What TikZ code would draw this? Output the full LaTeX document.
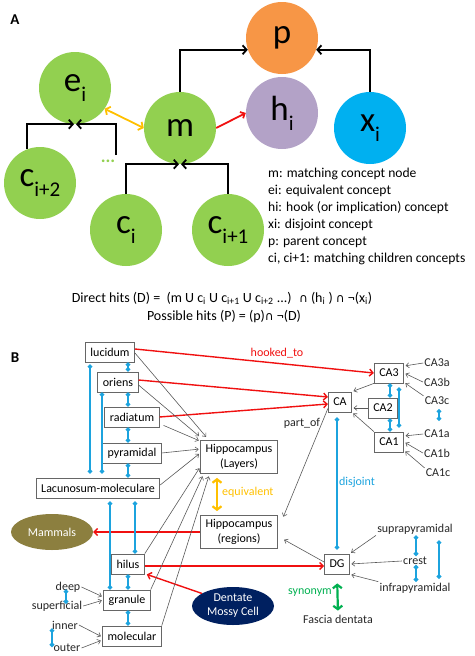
\documentclass[tikz,border=0pt]{standalone}
\usepackage{fontspec}
\setmainfont{Carlito}
\newfontfamily\symf{DejaVu Sans}
\usetikzlibrary{arrows.meta,shapes.geometric,calc}
\definecolor{lgreen}{HTML}{92D050}
\definecolor{porange}{HTML}{F79646}
\definecolor{hpurple}{HTML}{B3A2C7}
\definecolor{xblue}{HTML}{00B0F0}
\definecolor{eqorange}{HTML}{FFC000}
\definecolor{djblue}{HTML}{1CA3DE}
\definecolor{mammal}{HTML}{8C7F3F}
\definecolor{navyc}{HTML}{002060}
\definecolor{syngreen}{HTML}{00B050}
\definecolor{hookred}{HTML}{F01010}
\newcommand{\sbs}[1]{\raisebox{-0.28em}{\fontsize{21}{21}\selectfont #1}}
\begin{document}
\begin{tikzpicture}[x=1pt,y=-1pt,
  conc/.style={circle, minimum size=72pt, inner sep=0pt, font=\fontsize{35}{35}\selectfont},
  blk/.style={draw=black, line width=1.8pt, -{Straight Barb[length=4pt,width=9pt]}},
  box/.style={draw=gray!80!black, fill=white, line width=0.8pt, inner xsep=5pt, inner ysep=2pt, minimum height=20pt, font=\fontsize{12}{14}\selectfont},
  lbl/.style={inner sep=1pt, font=\fontsize{12}{14}\selectfont, text=black!85},
  redarr/.style={draw=hookred, line width=1.4pt, -{Straight Barb[length=3.5pt,width=7pt]}},
  gar/.style={draw=black!65, line width=0.6pt, -{Straight Barb[length=3pt,width=5pt]}, shorten >=1.5pt},
  dj/.style={draw=djblue, line width=1.6pt, {Circle[length=4.5pt]}-{Circle[length=4.5pt]}},
  dbl/.style={line width=2.2pt, {Straight Barb[length=3.5pt,width=9pt]}-{Straight Barb[length=3.5pt,width=9pt]}}
]
\useasboundingbox (0,0) rectangle (474,656);

% ---------- Part A ----------
\node[font=\fontsize{15}{15}\selectfont\bfseries] (labA) at (15,20) {A};
\node[conc,fill=lgreen] (e) at (75,88) {e\sbs{i}};
\node[conc,fill=lgreen] (m) at (180,128) {m};
\node[conc,fill=porange] (p) at (282,38) {p};
\node[conc,fill=hpurple] (h) at (282,113) {h\sbs{i}};
\node[conc,fill=xblue] (x) at (370,128) {x\sbs{i}};
\node[conc,fill=lgreen] (c2) at (40,183) {c\sbs{i+2}};
\node[conc,fill=lgreen] (ci) at (126,230) {c\sbs{i}};
\node[conc,fill=lgreen] (c1) at (228,230) {c\sbs{i+1}};
\node[text=lgreen, font=\fontsize{18}{18}\selectfont\bfseries] (dots) at (108,161) {...};
\coordinate (dotsend) at (116,155);

\draw[blk] (m.north) |- (p.199);
\draw[blk] (x.north) |- (p.-19);
\draw[blk] (c2.111) |- ([xshift=-1pt]e.south);
\draw[blk] (dotsend) |- ([xshift=1pt]e.south);
\draw[blk] (ci.north) |- ([xshift=-1pt]m.south);
\draw[blk] (c1.north) |- ([xshift=1pt]m.south);
\draw[dbl, draw=eqorange, line width=1.8pt] (e.-35) -- (m.west);
\draw[redarr, line width=1.8pt] (m.east) -- (h.west);

\node[anchor=north west, align=left, inner sep=0pt, font=\fontsize{13.6}{17}\selectfont] (legend) at (268,168)
 {m: matching concept node\\ ei: equivalent concept\\ hi: hook (or implication) concept\\ xi: disjoint concept\\ p: parent concept\\ ci, ci+1: matching children concepts};

\node[font=\fontsize{14}{16}\selectfont, inner sep=0pt] (f1) at (222,298)
 {Direct hits (D) = \ (m U c\textsubscript{i} U c\textsubscript{i+1} U c\textsubscript{i+2} ...) \ {\symf\fontsize{12}{14}\selectfont ∩} (h\textsubscript{i} ) {\symf\fontsize{12}{14}\selectfont ∩} ¬(x\textsubscript{i})};
\node[font=\fontsize{14}{16}\selectfont, inner sep=0pt] (f2) at (224,317)
 {Possible hits (P) = (p){\symf\fontsize{12}{14}\selectfont ∩} ¬(D)};

% ---------- Part B ----------
\node[font=\fontsize{15}{15}\selectfont\bfseries] (labB) at (15,358) {B};
\node[box] (lucidum) at (110,352) {lucidum};
\node[box] (oriens) at (118,382) {oriens};
\node[box] (radiatum) at (132,417) {radiatum};
\node[box] (pyramidal) at (132,453) {pyramidal};
\node[box] (lacun) at (98,488) {Lacunosum-moleculare};
\node[box, align=center, minimum height=33pt, font=\fontsize{12}{15}\selectfont] (layers) at (239,457) {Hippocampus\\(Layers)};
\node[box, align=center, minimum height=33pt, font=\fontsize{12}{15}\selectfont] (regions) at (239,532) {Hippocampus\\(regions)};
\node[ellipse, fill=mammal, minimum width=82pt, minimum height=36pt, inner sep=0pt, text=white, font=\fontsize{12}{14}\selectfont] (mammals) at (52,532) {Mammals};
\node[box] (hilus) at (128,564) {hilus};
\node[box] (granule) at (127,600) {granule};
\node[box] (molecular) at (132,636) {molecular};
\node[ellipse, fill=navyc, minimum width=82pt, minimum height=38pt, inner sep=0pt, text=white, align=center, font=\fontsize{12}{14}\selectfont] (mossy) at (233,606) {Dentate\\Mossy Cell};
\node[box] (DG) at (337,564) {DG};
\node[box] (CA) at (340,402) {CA};
\node[box] (CA3) at (389,373) {CA3};
\node[box] (CA2) at (383,408) {CA2};
\node[box] (CA1) at (389,442) {CA1};

\node[lbl] (CA3a) at (437,363) {CA3a};
\node[lbl] (CA3b) at (437,382) {CA3b};
\node[lbl] (CA3c) at (437,401) {CA3c};
\node[lbl] (CA1a) at (437,434) {CA1a};
\node[lbl] (CA1b) at (437,453) {CA1b};
\node[lbl] (CA1c) at (438,473) {CA1c};
\node[lbl] (supra) at (415,529) {suprapyramidal};
\node[lbl] (crest) at (415,561) {crest};
\node[lbl] (infra) at (415,588) {infrapyramidal};
\node[lbl] (fascia) at (338,619) {Fascia dentata};
\node[lbl] (deep) at (68,587) {deep};
\node[lbl] (superf) at (57,606) {superficial};
\node[lbl] (inner) at (65,625) {inner};
\node[lbl] (outer) at (67,648) {outer};

\node[lbl, text=hookred] (hooked) at (277,353) {hooked\_to};
\node[lbl] (partof) at (302,423) {part\_of};
\node[lbl, text=djblue] (disj) at (357,482) {disjoint};
\node[lbl, text=eqorange, anchor=west] (equiv) at (221,492) {equivalent};
\node[lbl, text=syngreen] (syn) at (310,593) {synonym};

% red arrows
\draw[redarr] ([yshift=3pt]lucidum.east) -- (CA3.west);
\draw[redarr] ([yshift=2pt]oriens.east) -- ([yshift=5pt]CA.west);
\draw[redarr] (radiatum.east) -- ([yshift=-2pt]CA.west);
\draw[redarr] (regions.west) -- (mammals.east);
\draw[redarr] ([yshift=-2pt]hilus.east) -- ([yshift=-2pt]DG.west);
\draw[redarr] (mossy.158) -- ([xshift=2pt]hilus.south east);

% gray arrows to Hippocampus (Layers)
\draw[gar] ([yshift=-1pt]lucidum.east) -- ([xshift=7pt,yshift=2pt]layers.north west);
\draw[gar] ([yshift=-3pt]oriens.east) -- ([yshift=3pt]layers.north west);
\draw[gar] ([xshift=4pt,yshift=2pt]radiatum.south east) -- ([yshift=-1pt]layers.north west);
\draw[gar] (pyramidal.east) -- ([yshift=8pt]layers.west);
\draw[gar] ([yshift=3pt]lacun.east) -- ([yshift=4pt]layers.west);
\draw[gar] (hilus.north east) -- ([yshift=7pt]layers.south west);
\draw[gar] (granule.north east) -- ([xshift=3pt,yshift=-1pt]layers.south west);
\draw[gar] (molecular.north east) -- ([xshift=9pt,yshift=-1pt]layers.south west);

% other gray arrows
\draw[gar] ([yshift=4pt]CA.south west) -- ([xshift=5pt,yshift=-3pt]regions.north east);
\draw[gar] ([yshift=2pt]DG.west) -- ([xshift=5pt,yshift=-7pt]regions.east);
\draw[gar] (CA3.south west) -- (CA.north east);
\draw[gar] (CA2.west) -- (CA2.west -| CA.east);
\draw[gar] (CA1.north west) -- (CA.south east);
\draw[gar] (CA3a.west) -- ([yshift=7pt]CA3.east);
\draw[gar] (CA3b.west) -- (CA3.east);
\draw[gar] (CA3c.north west) -- ([yshift=1pt]CA3.south east);
\draw[gar] (CA1a.west) -- ([yshift=6pt]CA1.east);
\draw[gar] (CA1b.west) -- (CA1.east);
\draw[gar] (CA1c.north west) -- ([yshift=2pt]CA1.south east);
\draw[gar] (supra.south west) -- (DG.north east);
\draw[gar] (crest.west) -- (DG.east);
\draw[gar] (infra.north west) -- (DG.south east);
\draw[gar] (deep.east) -- ([yshift=3pt]granule.west);
\draw[gar] (superf.east) -- (granule.west);
\draw[gar] (inner.east) -- ([yshift=-1pt]molecular.west);
\draw[gar] (outer.east) -- ([yshift=-4pt]molecular.west);

% disjoint blue links
\coordinate (cA) at (128,0);
\coordinate (cB) at (90,0);
\coordinate (cC) at (102,0);
\coordinate (cD) at (110,0);
\coordinate (cE) at (135,0);
\coordinate (cF) at (390,0);
\coordinate (cG) at (399,0);
\coordinate (cH) at (439,0);
\coordinate (cI) at (337,0);
\coordinate (cJ) at (416,0);
\coordinate (cK) at (66,0);
\coordinate (cL) at (52,0);
\draw[dj] (cA |- lucidum.south) -- (cA |- oriens.north);
\draw[dj] (cA |- oriens.south) -- (cA |- radiatum.north);
\draw[dj] (cA |- radiatum.south) -- (cA |- pyramidal.north);
\draw[dj] (cA |- pyramidal.south) -- (cA |- lacun.north);
\draw[dj] (cA |- hilus.south) -- (cA |- granule.north);
\draw[dj] (cA |- granule.south) -- (cA |- molecular.north);
\draw[dj, shorten <=2pt, shorten >=4pt] (cB |- lucidum.south) -- (cB |- lacun.north);
\draw[dj, shorten >=4pt] (cC |- oriens.south) -- (cC |- lacun.north);
\draw[dj, shorten <=3pt] (cD |- lacun.south) -- (cD |- granule.north);
\draw[dj, shorten <=3pt] (cE |- lacun.south) -- (cE |- hilus.north);
\draw[dj] (cF |- CA3.south) -- (cF |- CA2.north);
\draw[dj] (cF |- CA2.south) -- (cF |- CA1.north);
\draw[dj, shorten <=4pt, shorten >=4pt] (cG |- CA3.south) -- (cG |- CA1.north);
\draw[dj, shorten <=3pt, shorten >=8pt] (cH |- CA3c.south) -- (cH |- CA1a.north);
\draw[dj, shorten <=5pt, shorten >=4pt] (cI |- CA.south) -- (cI |- DG.north);
\draw[dj] (cJ |- supra.south) -- (cJ |- crest.north);
\draw[dj, shorten <=-1pt] (cJ |- crest.south) -- (cJ |- infra.north);
\draw[dj, shorten <=5pt, shorten >=3pt] (cH |- supra.south) -- (cH |- infra.north);
\draw[dj, shorten <=-4pt, shorten >=-4pt] (cK |- deep.south) -- (cK |- superf.north);
\draw[dj, shorten <=-2pt, shorten >=-4pt] (cL |- inner.south) -- (cL |- outer.north);

% equivalent / synonym
\coordinate (cEq) at (217,0);
\draw[dbl, draw=eqorange, shorten <=4pt, shorten >=4pt] (cEq |- layers.south) -- (cEq |- regions.north);
\draw[dbl, draw=syngreen, shorten <=9pt, shorten >=3pt] (DG.south) -- (fascia.north);
\end{tikzpicture}
\end{document}
